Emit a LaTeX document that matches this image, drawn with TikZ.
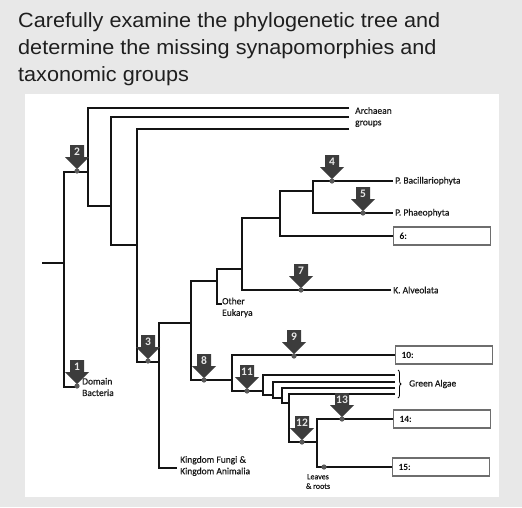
\documentclass[tikz,border=0pt]{standalone}
\usepackage{fontspec}
\setmainfont{Carlito}
\newfontfamily\labfont[FakeBold=0.4]{Carlito}
\newfontfamily\titlefont[FakeStretch=1.05]{Liberation Sans}
\usetikzlibrary{decorations.pathreplacing}
\definecolor{bgcol}{RGB}{232,232,232}
\definecolor{arrcol}{RGB}{60,60,60}
\definecolor{dotcol}{RGB}{90,90,90}
\definecolor{boxcol}{RGB}{110,110,110}
\newcommand\synarrow[3]{%
  \fill[arrcol] ({#1-7},{#2-26}) -- ({#1+7},{#2-26}) -- ({#1+7},{#2-14}) -- ({#1+12},{#2-14})
     -- ({#1},{#2-2}) -- ({#1-12},{#2-14}) -- ({#1-7},{#2-14}) -- cycle;
  \node[numlab] (m#3) at ({#1},{#2-19}) {#3};
  \fill[dotcol] (#1,#2) circle (2.6);
}
\begin{document}
\begin{tikzpicture}[x=1pt,y=-1pt,
  br/.style={line width=1.4pt, draw=black!92, line join=miter},
  lab/.style={font=\labfont\fontsize{9.5}{11.5}\selectfont, inner sep=2pt, text=black!90},
  smalllab/.style={font=\labfont\fontsize{8}{9.5}\selectfont, inner sep=1pt, text=black!90},
  numlab/.style={font=\bfseries\fontsize{11.5}{11.5}\selectfont, text=white!90!black, inner sep=0pt},
  ansbox/.style={draw=boxcol, line width=1.2pt, fill=white, minimum height=18pt,
     text width=85pt, inner xsep=6pt, align=left, font=\bfseries\fontsize{9.5}{10}\selectfont, anchor=west},
  titlestyle/.style={anchor=base west, inner sep=0pt, text=black!88,
     font=\titlefont\fontsize{20.6}{27}\selectfont}]
\useasboundingbox (0,0) rectangle (522,507);
\fill[bgcol] (0,0) rectangle (522,507);
\fill[white] (25,94) rectangle (499,497);

% title
\node[titlestyle] (t1) at (18,27) {Carefully examine the phylogenetic tree and};
\node[titlestyle] (t2) at (18,54) {determine the missing synapomorphies and};
\node[titlestyle] (t3) at (18,81) {taxonomic groups};

% junctions
\coordinate (root) at (42,263);
\coordinate (j1) at (64,263);
\coordinate (j2) at (88,172);
\coordinate (j3) at (111,206);
\coordinate (j4) at (137,245);
\coordinate (j5) at (159,362);
\coordinate (j6) at (191,323);
\coordinate (j7) at (217,281);
\coordinate (j8) at (242,269);
\coordinate (j9) at (280,218);
\coordinate (j9b) at (313,191);
\coordinate (j10) at (232,380);
\coordinate (j11) at (263,391);
\coordinate (j12) at (273,395);
\coordinate (j13) at (282,398);
\coordinate (j14) at (289,403);
\coordinate (j15) at (317,442);

% leaf ends
\coordinate (bact) at (77,387);
\coordinate (arch1) at (349,108);
\coordinate (arch2) at (349,117);
\coordinate (arch3) at (349,129);
\coordinate (fungi) at (177,468);
\coordinate (other) at (222,304);
\coordinate (ga1) at (395,375);
\coordinate (ga2) at (395,382);
\coordinate (ga3) at (395,388);
\coordinate (ga4) at (395,394);

% labels and boxes
\node[lab, anchor=west] (bacil) at (393,181) {P. Bacillariophyta};
\node[lab, anchor=west] (phaeo) at (393,213) {P. Phaeophyta};
\node[lab, anchor=west] (alveo) at (391,290) {K. Alveolata};
\node[ansbox] (b6) at (393,236) {6:};
\node[ansbox] (b10) at (395,355) {10:};
\node[ansbox] (b14) at (393,419) {14:};
\node[ansbox] (b15) at (392,467) {15:};
\node[lab, anchor=north west, align=left] (archlab) at (353,105) {Archaean\\groups};
\node[lab, anchor=west, align=left] (otherlab) at (220,307.5) {Other\\Eukarya};
\node[lab, anchor=west, align=left] (bactlab) at (80,387) {Domain\\Bacteria};
\node[lab, anchor=west, align=left] (fungilab) at (178,466) {Kingdom Fungi \&\\Kingdom Animalia};
\node[lab, anchor=west] (galab) at (407,384) {Green Algae};
\node[smalllab, align=center] (leaves) at (318,481.5) {Leaves\\\& roots};

% tree
\draw[br] (root) -- (j1);
\draw[br] (j2) -| (j1) |- (bact);
\draw[br] (arch1) -| (j2) |- (j3);
\draw[br] (arch2) -| (j3) |- (j4);
\draw[br] (arch3) -| (j4) |- (j5);
\draw[br] (j6) -| (j5) |- (fungi);
\draw[br] (j7) -| (j6) |- (j10);
\draw[br] (j8) -| (j7) |- (other);
\draw[br] (j9) -| (j8) |- (alveo.west);
\draw[br] (j9b) -| (j9) |- (b6.west);
\draw[br] (bacil.west) -| (j9b) |- (phaeo.west);
\draw[br] (b10.west) -| (j10) |- (j11);
\draw[br] (ga1) -| (j11) |- (j12);
\draw[br] (ga2) -| (j12) |- (j13);
\draw[br] (ga3) -| (j13) |- (j14);
\draw[br] (ga4) -| (j14) |- (j15);
\draw[br] (b14.west) -| (j15) |- (b15.west);

% green algae bracket
\draw[line width=0.8pt, decorate, decoration={brace, amplitude=3pt}] (398,370) -- (398,398);

% synapomorphy markers
\synarrow{77}{386}{1}
\synarrow{77}{171}{2}
\synarrow{148}{361}{3}
\synarrow{332}{181}{4}
\synarrow{363}{213}{5}
\synarrow{301}{290}{7}
\synarrow{204}{380}{8}
\synarrow{294}{356}{9}
\synarrow{247}{391}{11}
\synarrow{302}{442}{12}
\synarrow{342}{419}{13}
\fill[dotcol] (324,467) circle (2.6);
\end{tikzpicture}
\end{document}
